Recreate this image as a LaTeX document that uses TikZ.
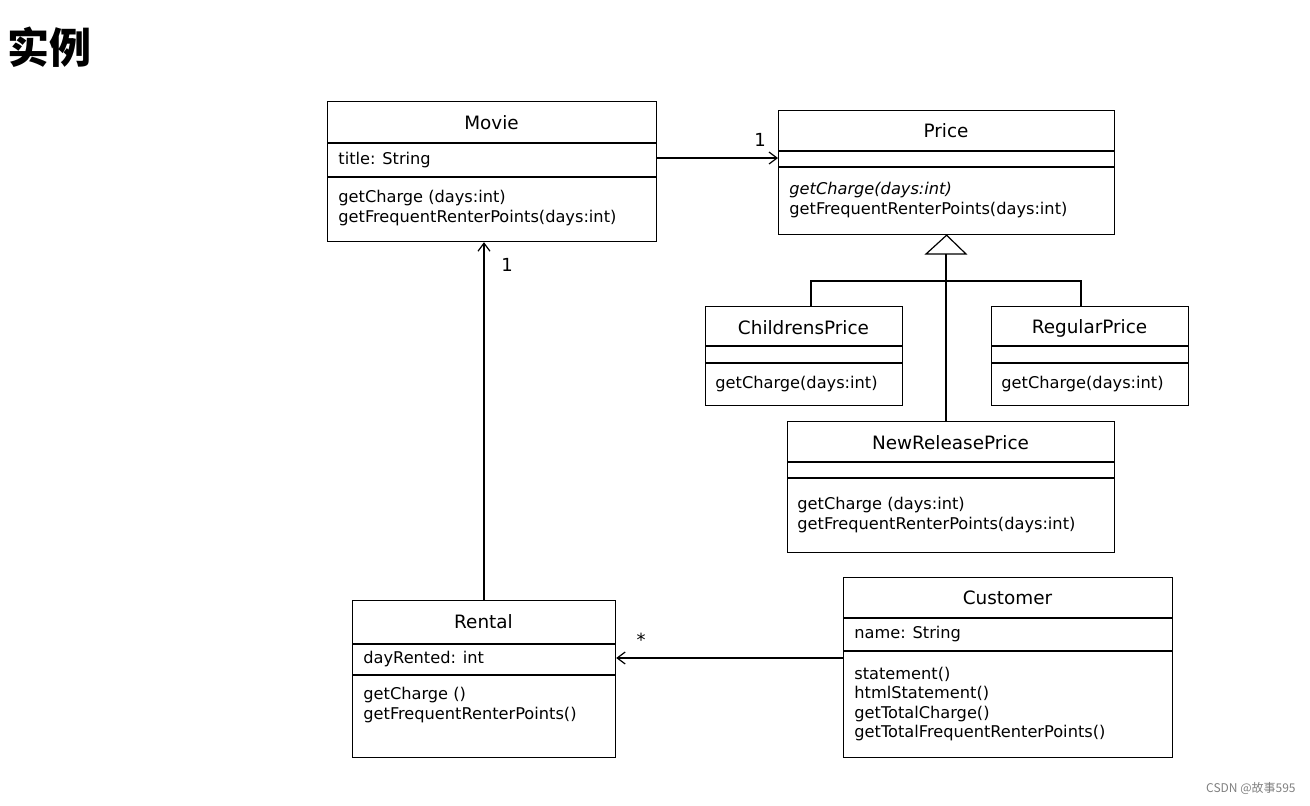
\documentclass[tikz,border=0pt]{standalone}
\usepackage{fontspec}
\setmainfont{DejaVu Sans}
\newfontfamily\cjk{Noto Sans CJK SC}
\usetikzlibrary{arrows.meta}
\begin{document}
\begin{tikzpicture}[x=0.5pt,y=-0.5pt,
  box/.style={draw,line width=0.6pt,inner sep=0,anchor=north west},
  nm/.style={font=\fontsize{9.2}{10}\selectfont,anchor=center},
  tx/.style={font=\fontsize{8.1}{9.6}\selectfont,anchor=west,inner sep=0,align=left},
  ln/.style={line width=0.6pt},
  arr/.style={line width=0.6pt,-{Straight Barb[length=4pt,width=6pt]}},
  ml/.style={font=\fontsize{9}{10}\selectfont\rmfamily}]
\useasboundingbox (0,0) rectangle (1310,805);
\node[font=\cjk\bfseries\fontsize{21}{24}\selectfont,anchor=west,inner sep=0] (title) at (7,47) {实例};
\node[font=\cjk\fontsize{6}{7}\selectfont,text=gray,anchor=east,inner sep=0] (wm) at (1296,788) {CSDN @故事595};
% Movie
\node[box,minimum width=164.5pt,minimum height=70pt] (movie) at (327,101) {};
\draw[ln] (327,143) -- (656,143) (327,177) -- (656,177);
\node[nm] (movieN) at (491.5,123) {Movie};
\node[tx] (movieA) at (338,160) {title: String};
\node[tx] (movieO) at (338,208) {getCharge (days:int)\\getFrequentRenterPoints(days:int)};
% Price
\node[box,minimum width=168pt,minimum height=62pt] (price) at (778,110) {};
\draw[ln] (778,151) -- (1114,151) (778,167) -- (1114,167);
\node[nm] (priceN) at (946,131) {Price};
\node[tx] (priceO) at (789,200) {\textit{getCharge(days:int)}\\getFrequentRenterPoints(days:int)};
% Childrens
\node[box,minimum width=98.5pt,minimum height=49.5pt] (child) at (705,306) {};
\draw[ln] (705,346) -- (902,346) (705,363) -- (902,363);
\node[nm] (childN) at (803.5,328) {ChildrensPrice};
\node[tx] (childO) at (715,384) {getCharge(days:int)};
% Regular
\node[box,minimum width=98.5pt,minimum height=49.5pt] (reg) at (991,306) {};
\draw[ln] (991,346) -- (1188,346) (991,363) -- (1188,363);
\node[nm] (regN) at (1089.5,328) {RegularPrice};
\node[tx] (regO) at (1001,384) {getCharge(days:int)};
% NewRelease
\node[box,minimum width=163.5pt,minimum height=65.5pt] (newr) at (787,421) {};
\draw[ln] (787,462) -- (1114,462) (787,478) -- (1114,478);
\node[nm] (newrN) at (950.5,443) {NewReleasePrice};
\node[tx] (newrO) at (797,515) {getCharge (days:int)\\getFrequentRenterPoints(days:int)};
% Rental
\node[box,minimum width=131.5pt,minimum height=78.5pt] (rental) at (352,600) {};
\draw[ln] (352,644) -- (615,644) (352,675) -- (615,675);
\node[nm] (rentalN) at (483.5,622) {Rental};
\node[tx] (rentalA) at (363,659) {dayRented: int};
\node[tx] (rentalO) at (363,705) {getCharge ()\\getFrequentRenterPoints()};
% Customer
\node[box,minimum width=164.5pt,minimum height=90pt] (cust) at (843,577) {};
\draw[ln] (843,618) -- (1172,618) (843,651) -- (1172,651);
\node[nm] (custN) at (1007.5,598) {Customer};
\node[tx] (custA) at (854,634) {name: String};
\node[tx] (custO) at (854,704) {statement()\\htmlStatement()\\getTotalCharge()\\getTotalFrequentRenterPoints()};
% connectors
\draw[arr] (movie.east |- 0,158) -- (price.west |- 0,158);
\node[ml] (l1) at (760,140) {1};
\draw[arr] (rental.north -| 484,0) -- (movie.south -| 484,0);
\node[ml] (l2) at (507,265) {1};
\draw[arr] (cust.west |- 0,658) -- (rental.east |- 0,658);
\node[ml] (l3) at (641,640) {*};
% inheritance
\coordinate (apex) at (price.south);
\draw[ln,fill=white] (apex) -- (926,254) -- (966,254) -- cycle;
\draw[ln] (946,254) -- (newr.north -| 946,0);
\draw[ln] (child.north -| 811,0) -- (811,281) -- (1081,281) -- (reg.north -| 1081,0);
\end{tikzpicture}
\end{document}
